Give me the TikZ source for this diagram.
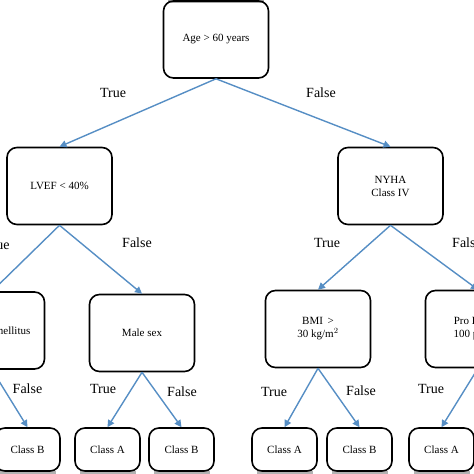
\documentclass[tikz,border=0pt]{standalone}
\usepackage{fontspec}
\setmainfont{Liberation Serif}
\usetikzlibrary{arrows.meta}
\definecolor{arrowblue}{RGB}{86,142,196}
\begin{document}
\begin{tikzpicture}[x=1pt,y=-1pt,
  box/.style={draw=black,line width=1.6pt,rounded corners=10pt,inner sep=0pt,align=center,font=\fontsize{11}{13}\selectfont},
  bigbox/.style={box,minimum width=105pt,minimum height=77pt},
  leaf/.style={box,minimum width=65pt,minimum height=43pt},
  edge/.style={draw=arrowblue,line width=1.4pt,-{Triangle[length=7pt,width=7pt]}},
  lab/.style={font=\fontsize{14}{16}\selectfont,inner sep=0pt}]
\useasboundingbox (0,0) rectangle (474,474);
\begin{scope}
\clip (0,0) rectangle (474,474);
% grey strips at image edges
\fill[gray!70] (168,0) rectangle (264,3);
\foreach \cx in {27.5,107.5,181.5,284.5,359.5,441.5}
  \fill[gray!60] (\cx-28,471) rectangle (\cx+28,474);
% decision nodes
\node[bigbox] (root) at (216,39.5) {Age > 60 years};
\node[bigbox] (lvef) at (59.5,186) {LVEF < 40\%};
\node[bigbox] (nyha) at (390.5,186) {NYHA\\Class IV};
\node[bigbox] (diab) at (-8,330.5) {Diabetes mellitus};
\node[bigbox] (male) at (142,333) {Male sex};
\node[bigbox] (bmi) at (318,329) {BMI \,>\\30 kg/m$^{2}$};
\node[bigbox] (bnp) at (478,329) {Pro BNP >\\100 pg/mL};
% leaves
\node[leaf] (cb1) at (27.5,449.5) {Class B};
\node[leaf] (ca2) at (107.5,449.5) {Class A};
\node[leaf] (cb2) at (181.5,449.5) {Class B};
\node[leaf] (ca3) at (284.5,449.5) {Class A};
\node[leaf] (cb3) at (359.5,449.5) {Class B};
\node[leaf] (ca4) at (441.5,449.5) {Class A};
% edges
\draw[edge] (root.south) -- (lvef.north);
\draw[edge] (root.south) -- (nyha.north);
\draw[edge] (lvef.south) -- (diab.north);
\draw[edge] (lvef.south) -- (male.north);
\draw[edge] (nyha.south) -- (bmi.north);
\draw[edge] (nyha.south) -- (bnp.north);
\draw[edge] (diab.south) -- (cb1.north);
\draw[edge] (male.south) -- (ca2.north);
\draw[edge] (male.south) -- (cb2.north);
\draw[edge] (bmi.south) -- (ca3.north);
\draw[edge] (bmi.south) -- (cb3.north);
\draw[edge] (bnp.south) -- (ca4.north);
% labels
\node[lab] (l1) at (113,93) {True};
\node[lab] (l2) at (321,93) {False};
\node[lab] (l3) at (-3.5,245) {True};
\node[lab] (l4) at (137,243) {False};
\node[lab] (l5) at (327,243) {True};
\node[lab] (l6) at (467,243) {False};
\node[lab] (l7) at (27.5,389) {False};
\node[lab] (l8) at (103,389) {True};
\node[lab] (l9) at (182,392) {False};
\node[lab] (l10) at (274,392) {True};
\node[lab] (l11) at (361,391) {False};
\node[lab] (l12) at (431,389) {True};
\end{scope}
\end{tikzpicture}
\end{document}
